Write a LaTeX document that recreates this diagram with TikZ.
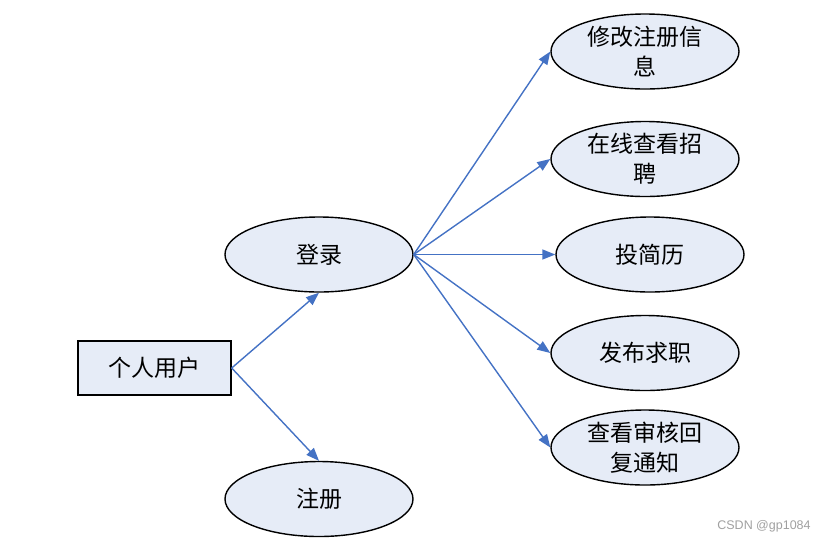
\documentclass[tikz,border=0pt]{standalone}
\usepackage{fontspec}
\newfontfamily\cjk{Noto Sans CJK SC}
\newfontfamily\wmfont{Liberation Sans}
\usetikzlibrary{arrows.meta,shapes.geometric}
\definecolor{nodefill}{HTML}{E6ECF7}
\definecolor{arrowblue}{HTML}{4472C4}
\definecolor{wmgray}{HTML}{A0A0A0}
\tikzset{
  oval/.style={ellipse, draw=black, line width=1.4pt, fill=nodefill,
    minimum width=188pt, minimum height=75pt, inner sep=0pt,
    align=center, font=\cjk\fontsize{23}{30}\selectfont},
  userbox/.style={rectangle, draw=black, line width=1.4pt, fill=nodefill,
    minimum width=153pt, minimum height=54pt, inner sep=0pt,
    font=\cjk\fontsize{23}{30}\selectfont},
  conn/.style={draw=arrowblue, line width=1.4pt,
    -{Triangle[length=13pt,width=10pt]}}
}
\begin{document}
\begin{tikzpicture}[x=1pt,y=-1pt]
\useasboundingbox (0,0) rectangle (821,542);
\node[userbox] (user) at (154.5,368) {个人用户};
\node[oval] (login) at (319,254.5) {登录};
\node[oval] (reg) at (319,499) {注册};
\node[oval] (modify) at (645,51.5) {修改注册信\\息};
\node[oval] (view) at (645,159) {在线查看招\\聘};
\node[oval] (resume) at (650,254.5) {投简历};
\node[oval] (job) at (645,353) {发布求职};
\node[oval] (notice) at (645,447.5) {查看审核回\\复通知};
\draw[conn] (user.east) -- (login.south);
\draw[conn] (user.east) -- (reg.north);
\draw[conn] (login.east) -- (modify.west);
\draw[conn] (login.east) -- (view.west);
\draw[conn] (login.east) -- (resume.west);
\draw[conn] (login.east) -- (job.west);
\draw[conn] (login.east) -- (notice.west);
\node[text=wmgray, font=\wmfont\fontsize{12.5}{14}\selectfont] (wm) at (764,526) {CSDN @gp1084};
\end{tikzpicture}
\end{document}
